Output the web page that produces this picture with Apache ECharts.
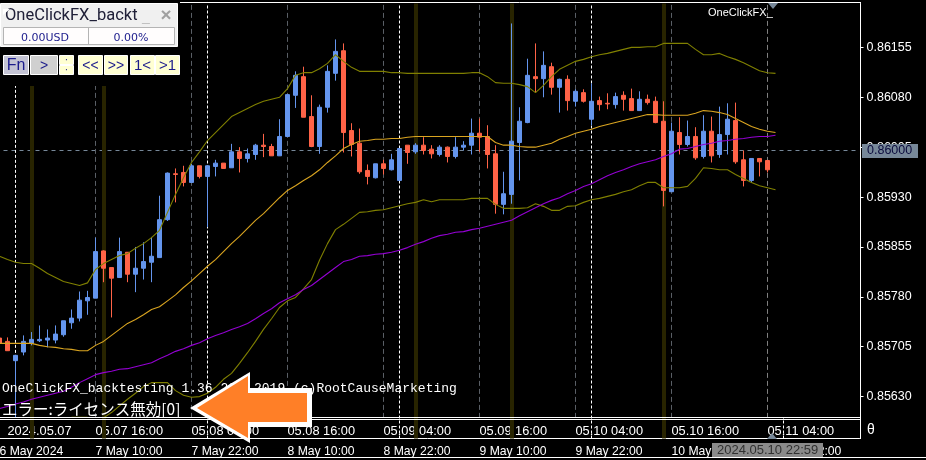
<!DOCTYPE html>
<html>
<head>
    <meta charset="utf-8" />
    <title>OneClickFX_backtesting</title>
    <script src="https://cdn.jsdelivr.net/npm/echarts@6/dist/echarts.min.js"></script>
    <style>
        * { margin: 0; padding: 0 }
        body { background: #000; overflow: hidden }
        /* pushed left so the first candle is cut by the window edge */
        #chart { width: 931px; height: 460px; margin-left: -5px }
    </style>
</head>
<body>
    <div id="chart"></div>
    <script>
        const opens = [0.85718,0.85713,0.85684,0.85697,0.85710,0.85714,0.85715,0.85715,0.85723,0.85741,0.85748,0.85774,0.85778,0.85849,0.85824,0.85809,0.85847,0.85814,0.85823,0.85832,
            0.85839,0.85896,0.85965,0.85967,0.85952,0.85977,0.85961,0.85976,0.85981,0.85974,0.85998,0.85988,0.85994,0.86008,0.86006,0.85992,0.86021,0.86083,0.86111,0.86051,
            0.86006,0.86065,0.86116,0.86150,0.86030,0.86011,0.85970,0.85959,0.85980,0.85971,0.85955,0.86008,0.85998,0.86008,0.86002,0.85994,0.86005,0.85991,0.86005,0.86008,
            0.86026,0.86021,0.85995,0.85919,0.85934,0.86012,0.86042,0.86111,0.86108,0.86126,0.86095,0.86107,0.86074,0.86087,0.86047,0.86075,0.86071,0.86069,0.86083,0.86078,
            0.86060,0.86077,0.86074,0.86044,0.85938,0.86027,0.86009,0.86021,0.85991,0.86029,0.85994,0.86024,0.86045,0.85986,0.85955,0.85988,0.85985];
        const closes = [0.85710,0.85699,0.85692,0.85713,0.85716,0.85716,0.85718,0.85724,0.85744,0.85748,0.85775,0.85779,0.85848,0.85823,0.85808,0.85848,0.85814,0.85823,0.85833,0.85841,
            0.85896,0.85966,0.85964,0.85952,0.85977,0.85961,0.85977,0.85981,0.85973,0.85998,0.85988,0.85995,0.86008,0.86006,0.85992,0.86021,0.86084,0.86113,0.86050,0.86006,
            0.86065,0.86119,0.86149,0.86027,0.86009,0.85968,0.85961,0.85980,0.85973,0.85986,0.86003,0.85997,0.86008,0.86000,0.85995,0.86005,0.85991,0.86005,0.86008,0.86026,
            0.86020,0.85994,0.85919,0.85935,0.86014,0.86044,0.86113,0.86108,0.86128,0.86095,0.86107,0.86075,0.86089,0.86074,0.86074,0.86069,0.86070,0.86081,0.86077,0.86060,
            0.86077,0.86072,0.86042,0.85940,0.86029,0.86009,0.86021,0.85989,0.86029,0.85992,0.86024,0.86047,0.85983,0.85955,0.85988,0.85983,0.85971];
        const lows = [0.85709,0.85699,0.85598,0.85692,0.85707,0.85712,0.85704,0.85710,0.85720,0.85732,0.85743,0.85753,0.85778,0.85802,0.85749,0.85809,0.85802,0.85787,0.85806,0.85802,
            0.85839,0.85894,0.85922,0.85946,0.85952,0.85958,0.85885,0.85961,0.85973,0.85974,0.85967,0.85982,0.85986,0.85990,0.85992,0.85992,0.86021,0.86064,0.86050,0.86005,
            0.85995,0.86057,0.86105,0.85997,0.85991,0.85965,0.85949,0.85958,0.85964,0.85970,0.85955,0.85980,0.85995,0.85994,0.85988,0.85991,0.85982,0.85988,0.86000,0.85994,
            0.85998,0.85973,0.85905,0.85904,0.85920,0.85955,0.86041,0.86087,0.86080,0.86084,0.86057,0.86060,0.86066,0.86072,0.86038,0.86060,0.86062,0.86063,0.86060,0.86060,
            0.86060,0.86069,0.86041,0.85916,0.85938,0.85994,0.86006,0.85986,0.85988,0.85982,0.85989,0.85994,0.85980,0.85946,0.85952,0.85961,0.85967];
        const highs = [0.85719,0.85719,0.85692,0.85722,0.85727,0.85737,0.85731,0.85737,0.85744,0.85761,0.85788,0.85789,0.85869,0.85850,0.85824,0.85869,0.85847,0.85855,0.85862,0.85870,
            0.85932,0.85967,0.85973,0.85977,0.85980,0.85977,0.85977,0.85986,0.85981,0.86010,0.86005,0.86003,0.86010,0.86025,0.86010,0.86047,0.86084,0.86119,0.86126,0.86083,
            0.86069,0.86128,0.86167,0.86161,0.86041,0.86033,0.85979,0.85980,0.85986,0.85995,0.86003,0.86008,0.86011,0.86020,0.86008,0.86008,0.86006,0.86020,0.86014,0.86048,
            0.86048,0.86038,0.86008,0.85968,0.86191,0.86065,0.86138,0.86161,0.86149,0.86132,0.86108,0.86113,0.86092,0.86092,0.86101,0.86081,0.86086,0.86087,0.86089,0.86093,
            0.86089,0.86084,0.86081,0.86074,0.86042,0.86050,0.86045,0.86035,0.86053,0.86051,0.86066,0.86071,0.86072,0.86000,0.85988,0.85988,0.85985];

        const upperBand = [0.85841,0.85836,0.85832,0.85830,0.85830,0.85823,0.85815,0.85809,0.85803,0.85800,0.85797,0.85801,0.85821,0.85830,0.85836,0.85842,0.85845,0.85853,0.85860,0.85869,
            0.85880,0.85907,0.85934,0.85959,0.85982,0.85998,0.86015,0.86027,0.86039,0.86051,0.86057,0.86063,0.86069,0.86074,0.86077,0.86080,0.86093,0.86113,0.86117,0.86117,
            0.86123,0.86131,0.86144,0.86134,0.86125,0.86119,0.86119,0.86119,0.86119,0.86117,0.86117,0.86116,0.86116,0.86116,0.86116,0.86116,0.86116,0.86116,0.86116,0.86117,
            0.86117,0.86111,0.86102,0.86101,0.86101,0.86099,0.86096,0.86087,0.86098,0.86111,0.86122,0.86128,0.86134,0.86137,0.86141,0.86144,0.86146,0.86149,0.86152,0.86155,
            0.86155,0.86156,0.86156,0.86161,0.86161,0.86161,0.86161,0.86152,0.86144,0.86144,0.86146,0.86141,0.86137,0.86132,0.86126,0.86120,0.86117,0.86116];
        const middleBand = [0.85710,0.85710,0.85710,0.85710,0.85710,0.85707,0.85705,0.85704,0.85702,0.85701,0.85699,0.85699,0.85707,0.85713,0.85722,0.85731,0.85740,0.85746,0.85753,0.85761,
            0.85765,0.85774,0.85783,0.85794,0.85804,0.85815,0.85826,0.85836,0.85848,0.85860,0.85871,0.85883,0.85895,0.85905,0.85917,0.85929,0.85940,0.85947,0.85955,0.85962,
            0.85971,0.85982,0.85992,0.86003,0.86009,0.86014,0.86015,0.86017,0.86017,0.86018,0.86018,0.86020,0.86021,0.86021,0.86021,0.86021,0.86021,0.86021,0.86021,0.86021,
            0.86021,0.86021,0.86012,0.86008,0.86008,0.86006,0.86005,0.86005,0.86008,0.86011,0.86017,0.86021,0.86026,0.86029,0.86032,0.86036,0.86039,0.86042,0.86045,0.86048,
            0.86051,0.86054,0.86054,0.86053,0.86053,0.86053,0.86053,0.86056,0.86060,0.86059,0.86057,0.86054,0.86048,0.86042,0.86036,0.86032,0.86029,0.86027];
        // below the strip for the first candles, so left empty
        const lowerBand = [null,null,null,null,null,null,null,null,null,0.85599,0.85599,0.85599,null,0.85598,0.85606,0.85616,0.85626,0.85635,0.85645,0.85651,
            0.85651,0.85651,0.85639,0.85632,0.85629,0.85630,0.85635,0.85644,0.85656,0.85665,0.85680,0.85696,0.85713,0.85731,0.85747,0.85764,0.85774,0.85779,0.85792,0.85806,
            0.85835,0.85860,0.85881,0.85889,0.85898,0.85907,0.85908,0.85910,0.85911,0.85914,0.85917,0.85920,0.85922,0.85926,0.85923,0.85926,0.85926,0.85926,0.85926,0.85928,
            0.85928,0.85928,0.85919,0.85913,0.85913,0.85913,0.85914,0.85920,0.85916,0.85910,0.85910,0.85916,0.85917,0.85922,0.85926,0.85928,0.85931,0.85934,0.85938,0.85941,
            0.85947,0.85952,0.85952,0.85944,0.85944,0.85944,0.85946,0.85958,0.85974,0.85973,0.85971,0.85971,0.85964,0.85958,0.85952,0.85947,0.85944,0.85941];
        const slowMa = [0.85612,0.85615,0.85619,0.85622,0.85626,0.85629,0.85632,0.85635,0.85638,0.85644,0.85651,0.85657,0.85663,0.85666,0.85668,0.85671,0.85672,0.85675,0.85678,0.85681,
            0.85687,0.85692,0.85698,0.85702,0.85707,0.85711,0.85717,0.85722,0.85726,0.85731,0.85735,0.85740,0.85747,0.85755,0.85762,0.85771,0.85777,0.85783,0.85791,0.85797,
            0.85806,0.85815,0.85824,0.85833,0.85836,0.85841,0.85842,0.85844,0.85845,0.85847,0.85850,0.85854,0.85859,0.85863,0.85868,0.85872,0.85874,0.85877,0.85878,0.85881,
            0.85883,0.85886,0.85889,0.85892,0.85895,0.85902,0.85908,0.85914,0.85920,0.85925,0.85929,0.85935,0.85940,0.85946,0.85950,0.85956,0.85962,0.85967,0.85971,0.85976,
            0.85980,0.85983,0.85986,0.85991,0.85995,0.86002,0.86003,0.86006,0.86009,0.86011,0.86014,0.86015,0.86017,0.86018,0.86020,0.86021,0.86021,0.86023];

        const priceTicks = [0.85630, 0.85705, 0.85780, 0.85855, 0.85930, 0.86005, 0.86080, 0.86155];
        const priceNow = 0.86000;

        // tick labels by candle index
        const lowerTickIdx = [0, 12, 24, 36, 48, 60, 72, 84, 96];
        const lowerTickText = ['6 May 2024', '7 May 10:00', '7 May 22:00', '8 May 10:00', '8 May 22:00', '9 May 10:00', '9 May 22:00', '10 May 10:00', '10 May 22:00'];
        const upperTickIdx = [1, 12, 24, 36, 48, 60, 72, 84, 96];
        const upperTickText = ['2024.05.07', '05.07 16:00', '05.08 04:00', '05.08 16:00', '05.09 04:00', '05.09 16:00', '05.10 04:00', '05.10 16:00', '05.11 04:00'];

        // vertical lines by candle index
        const grayLines = [12, 24, 36, 48, 60, 72, 84, 96];
        const whiteLines = [2, 26, 50, 74];
        const oliveBands = [4, 13, 52, 64, 83];

        const BAR_COUNT = 108;
        const Y_MIN = 0.85567, Y_MAX = 0.86221;
        const UP = '#6495ed', DOWN = '#ff6347', OLIVE = '#808000', GOLD = '#daa520', PURPLE = '#9400d3', SLATE = '#778899', NAVY = '#1c1c8c';
        const FONT = '"Liberation Sans", sans-serif';

        const names = [];
        for (let i = 0; i < BAR_COUNT; i++) names.push(String(i));
        const candles = opens.map((o, i) => [o, closes[i], lows[i], highs[i]]);

        function vLine(idx, from, to, lineStyle) {
            return [{ xAxis: idx, yAxis: from, lineStyle: lineStyle }, { xAxis: idx, yAxis: to }];
        }
        const Y_STRIP_TOP = 0.85598; // price level of the strip's top edge
        const marks = [{ yAxis: priceNow, lineStyle: { color: SLATE, width: 1, type: [4, 4] } }];
        grayLines.forEach(i => marks.push(vLine(i, Y_STRIP_TOP, Y_MAX, { color: i === 96 ? '#808080' : '#5a5f66', width: 1, type: [5, 3] })));
        whiteLines.forEach(i => marks.push(vLine(i, i === 2 ? Y_STRIP_TOP : Y_MIN, Y_MAX, { color: '#fff', width: 1, type: [3, 2] })));
        oliveBands.forEach(i => marks.push(vLine(i, Y_MIN, Y_MAX, { color: '#282400', width: 4, type: 'solid' })));
        marks.push(vLine(98, Y_MIN, Y_STRIP_TOP, { color: '#fff', width: 1, type: [3, 2] }));

        function bandSeries(name, data, color) {
            return {
                name: name, type: 'line', data: data, showSymbol: false, symbol: 'none', silent: true, animation: false,
                lineStyle: { color: color, width: 1.1 }, z: 3
            };
        }

        function rect(x, y, w, h, fill, stroke, z) {
            return { type: 'rect', shape: { x: x, y: y, width: w, height: h }, style: { fill: fill, stroke: stroke || null, lineWidth: 1 }, z: z || 100, silent: true };
        }
        function label(x, y, text, color, size, opts) {
            const o = opts || {};
            return {
                type: 'text', x: x, y: y, z: o.z || 102, silent: true,
                style: { text: text, fill: color, font: (o.weight || '') + ' ' + size + 'px ' + (o.family || FONT), textAlign: o.align || 'left', textVerticalAlign: 'middle' }
            };
        }
        function hLine(x1, x2, y) {
            return { type: 'line', shape: { x1: x1, y1: y, x2: x2, y2: y }, style: { stroke: '#fff', lineWidth: 1 }, z: 90, silent: true };
        }
        function button(x, w, text, fill, size) {
            return [rect(x + 0.5, 55.5, w, 19, fill, '#fff', 101), label(x + 0.5 + w / 2, 66, text, NAVY, size || 14, { align: 'center' })];
        }
        function poly(points, fill, z) {
            return { type: 'polygon', shape: { points: points }, style: { fill: fill }, z: z, silent: true };
        }

        const elements = [
            // frame
            hLine(0, 860, 417.5), hLine(0, 860, 419.5), hLine(0, 926, 457.5),
            { type: 'line', shape: { x1: 860.5, y1: 417, x2: 860.5, y2: 439 }, style: { stroke: '#fff', lineWidth: 1 }, z: 90, silent: true },
            // the panel's corner hides the vertical lines
            rect(0, 0, 180, 86, '#000', null, 99),
            rect(180, 0, 746, 2, '#000', null, 99),
            hLine(178, 861, 2.5),
            rect(0.5, 3.5, 177, 43, '#f0f0f0', '#fff', 100),
            rect(3.5, 27.5, 171, 17, '#fffdfd', '#b4b4b4', 101),
            { type: 'line', shape: { x1: 88.5, y1: 28, x2: 88.5, y2: 45 }, style: { stroke: '#b4b4b4', lineWidth: 1 }, z: 102, silent: true },
            label(5, 16, 'OneClickFX_backt', '#202038', 16.5, { family: 'Roboto, sans-serif' }),
            poly([[3, 9], [10, 9], [3, 15]], '#fff', 103),
            label(142, 18, '_', '#a0a0a0', 14, { weight: 'bold' }),
            label(166, 16, '×', '#a0a0a0', 19, { weight: 'bold', align: 'center' }),
            label(45, 38, '0.00USD', NAVY, 11, { align: 'center', family: '"DejaVu Sans", sans-serif' }),
            label(131, 38, '0.00%', NAVY, 11, { align: 'center', family: '"DejaVu Sans", sans-serif' }),
            ...button(3, 25, 'Fn', '#c4c4d4', 16),
            ...button(30, 27, '>', '#d0d0d0'),
            rect(59.5, 55.5, 14, 9, '#ffffd2', '#fff', 101), rect(59.5, 65.5, 14, 9, '#ffffd2', '#fff', 101),
            label(66.5, 60, '·', NAVY, 10, { align: 'center' }), label(66.5, 70, '·', NAVY, 10, { align: 'center' }),
            ...button(78, 24, '<<', '#ffffd2'),
            ...button(104, 23, '>>', '#ffffd2'),
            ...button(130, 24, '1<', '#ffffd2', 15),
            ...button(155, 24, '>1', '#ffffd2', 15),
            // top right
            label(708, 13, 'OneClickFX_', '#fff', 11),
            poly([[768, 3], [778, 3], [773, 9]], SLATE, 100),
            // current price tag
            rect(862, 144, 56, 14, SLATE, null, 100),
            label(867, 151, '0.86000', '#0a0a3c', 12.5),
            // expert messages
            label(2, 389, 'OneClickFX_backtesting 1.36 20', '#fff', 13, { family: '"Liberation Mono", monospace', z: 95 }),
            label(254, 389, '2019 (c)RootCauseMarketing', '#fff', 13, { family: '"Liberation Mono", monospace', z: 95 }),
            label(2, 409, 'エラー:ライセンス無効[0]', '#fff', 15.5, { family: '"Noto Sans CJK JP", sans-serif', z: 95 }),
            // arrow
            poly([[190, 408], [250, 372], [250, 388], [312, 388], [312, 427], [250, 427], [250, 443]], '#fff', 110),
            poly([[197, 408], [248, 376], [248, 393], [307, 393], [307, 422], [248, 422], [248, 438]], '#ff7f27', 111),
            // crosshair time tag
            rect(712, 443, 111, 14, '#8a8a8a', null, 100),
            label(717, 450, '2024.05.10 22:59', '#303030', 13),
            poly([[767, 439], [777, 439], [772, 433]], SLATE, 100),
            label(867, 430, 'θ', '#fff', 14)
        ];

        const myChart = echarts.init(document.getElementById('chart'), null, { renderer: 'canvas' });
        myChart.setOption({
            animation: false,
            backgroundColor: '#000',
            grid: { left: 0.5, top: 3.5, width: 864, height: 435 },
            xAxis: [
                {
                    type: 'category', data: names, position: 'bottom', boundaryGap: true,
                    axisLine: { onZero: false, lineStyle: { color: '#fff', width: 1 } },
                    axisTick: { alignWithLabel: true, length: 4, interval: (i) => lowerTickIdx.includes(i), lineStyle: { color: '#fff' } },
                    axisLabel: {
                        interval: (i) => lowerTickIdx.includes(i), hideOverlap: false, showMinLabel: true, showMaxLabel: true,
                        formatter: (v, i) => lowerTickText[lowerTickIdx.indexOf(i)] || '',
                        color: '#fff', fontFamily: FONT, fontSize: 12.2, align: 'left', margin: 7
                    },
                    splitLine: { show: false }
                },
                {
                    type: 'category', data: names, position: 'bottom', boundaryGap: true,
                    axisLine: { show: false, onZero: false }, axisTick: { show: false },
                    axisLabel: {
                        inside: true, interval: (i) => upperTickIdx.includes(i), hideOverlap: false, showMinLabel: true, showMaxLabel: true,
                        formatter: (v, i) => upperTickText[upperTickIdx.indexOf(i)] || '',
                        color: '#fff', fontFamily: FONT, fontSize: 12.8, align: 'left', margin: 1
                    },
                    splitLine: { show: false }
                }
            ],
            yAxis: {
                type: 'value', position: 'right', offset: 1, min: Y_MIN, max: Y_MAX, scale: true,
                axisLine: { show: true, onZero: false, lineStyle: { color: '#fff', width: 1 } },
                axisTick: { show: true, length: 3, customValues: priceTicks, lineStyle: { color: '#fff' } },
                axisLabel: { customValues: priceTicks, formatter: (v) => v.toFixed(5), color: '#fff', fontFamily: FONT, fontSize: 12.5, margin: 6, padding: [3, 0, 0, 0] },
                splitLine: { show: false }
            },
            series: [
                {
                    name: 'price', type: 'candlestick', data: candles, barWidth: 5, silent: true, animation: false, z: 2,
                    itemStyle: { color: UP, color0: DOWN, borderColor: UP, borderColor0: DOWN, borderWidth: 1 },
                    markLine: { silent: true, symbol: 'none', label: { show: false }, z: 1, animation: false, data: marks }
                },
                bandSeries('upper', upperBand, OLIVE),
                bandSeries('middle', middleBand, GOLD),
                bandSeries('lower', lowerBand, OLIVE),
                bandSeries('slow', slowMa, PURPLE)
            ],
            graphic: { elements: [{ type: 'group', x: 5, y: 0, children: elements }] }
        });

        window.addEventListener('resize', function () {
            myChart.resize();
        });
    </script>
</body>
</html>
